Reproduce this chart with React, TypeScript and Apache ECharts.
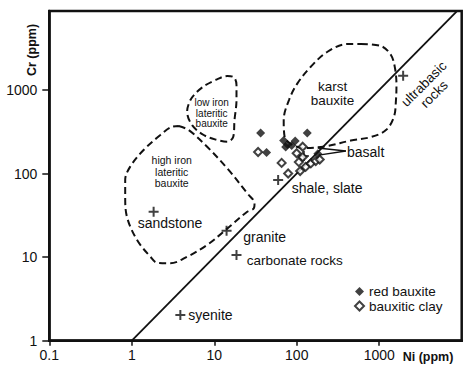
import React, { useEffect, useRef } from "react";
import * as echarts from "echarts";

const xTicks = [0.1, 1, 10, 100, 1000];
const yTicks = [1, 10, 100, 1000];

const redBauxite = [
  [36.5, 305], [134, 305], [43.1, 178], [69.4, 248], [77.6, 222],
  [95.8, 245], [73.4, 207], [86.8, 216], [180, 173],
];
const bauxiticClay = [
  [34.0, 181], [118, 209], [99.8, 175], [118, 157], [65.6, 134], [106, 137],
  [78.7, 100], [110, 107], [128, 120], [148, 132], [170, 141], [190, 147],
];
// sandstone, granite, carbonate rocks, syenite, ultrabasic rocks, shale/slate, (unlabelled)
const rocks = [
  [1.84, 35], [14.1, 20.7], [18.6, 10.6], [3.88, 2.03], [1950, 1480], [59.5, 83.6], [122, 162],
];
const equalLine = [[1, 1], [10000, 10000]];

const highIron = [
  [3.7, 370], [4.9, 331], [8.2, 209], [14.4, 115], [25.1, 58], [30.8, 44], [30.2, 38.4],
  [25.1, 34.9], [14.9, 22.6], [8.2, 14.0], [4.69, 10.1], [2.93, 8.43], [2.02, 8.57],
  [1.68, 10.1], [1.16, 16.0], [0.873, 30.4], [0.832, 52.8], [0.832, 83.6], [0.957, 121],
  [1.39, 191], [2.22, 289], [3.08, 363], [3.7, 370],
];
const lowIron = [
  [7.82, 1145], [10.8, 1340], [14.4, 1467], [17.3, 1415], [18.6, 1145], [18.6, 757],
  [17.6, 437], [17.0, 275], [14.4, 240], [10.8, 252], [7.45, 289], [5.39, 380],
  [4.69, 549], [5.14, 757], [6.19, 951], [7.82, 1145],
];
const karst = [
  [600, 3540], [1049, 3350], [1387, 2615], [1552, 1828], [1618, 1145], [1596, 757],
  [1510, 478], [1207, 331], [793, 273], [453, 248], [231, 213], [128, 202], [89.3, 219],
  [71.4, 273], [69.5, 437], [80.5, 757], [102, 1199], [148, 1895], [236, 2864],
  [413, 3540], [600, 3540],
];
const basaltPointer1 = [[394, 186], [180, 202]];
const basaltPointer2 = [[394, 186], [185, 166]];

const FONT = "'Liberation Sans', Arial, Helvetica, sans-serif";
const plusPath = "path://M4,0H6V4H10V6H6V10H4V6H0V4H4Z";

function txt(text: string, x: number, y: number, size: number, opts: any = {}) {
  return {
    type: "text",
    x,
    y,
    rotation: opts.rotation || 0,
    silent: true,
    style: {
      text,
      fill: "#111",
      fontSize: size,
      fontFamily: FONT,
      fontWeight: opts.bold ? "bold" : "normal",
      lineHeight: opts.lineHeight || size,
      textAlign: opts.align || "left",
      textVerticalAlign: "middle",
    },
  };
}

export default function App() {
  const ref = useRef<HTMLDivElement>(null);
  useEffect(() => {
    if (!ref.current) return;
    const chart = echarts.init(ref.current, null, { renderer: "svg" });
    const dashed = (data: number[][]) => ({
      type: "line",
      data,
      showSymbol: false,
      symbol: "none",
      smooth: 0.35,
      silent: true,
      lineStyle: { color: "#111", width: 2, type: [7, 4] },
      z: 2,
    });
    const solid = (data: number[][], w: number) => ({
      type: "line",
      data,
      symbol: "none",
      silent: true,
      lineStyle: { color: "#111", width: w },
      z: 2,
    });
    chart.setOption({
      animation: false,
      backgroundColor: "#fff",
      grid: {
        left: 49.3,
        right: 12.3,
        top: 11,
        bottom: 37.3,
        show: true,
        borderColor: "#111",
        borderWidth: 2.5,
        containLabel: false,
      },
      legend: {
        data: ["red bauxite", "bauxitic clay"],
        orient: "vertical",
        left: 354,
        top: 284.5,
        padding: 0,
        itemWidth: 9,
        itemHeight: 9,
        itemGap: 0.5,
        icon: "diamond",
        textStyle: { fontSize: 13.5, fontFamily: FONT, color: "#111", lineHeight: 14 },
        selectedMode: false,
      },
      xAxis: {
        type: "log",
        logBase: 10,
        min: 0.1,
        max: 10000,
        axisLine: { show: true, lineStyle: { color: "#111", width: 2.5 } },
        axisTick: { show: true, length: 5, customValues: xTicks, lineStyle: { color: "#111", width: 1.5 } },
        axisLabel: {
          customValues: xTicks,
          margin: 7,
          fontSize: 14,
          fontFamily: FONT,
          color: "#111",
          formatter: (v: number) => String(v),
        },
        splitLine: { show: false },
      },
      yAxis: {
        type: "log",
        logBase: 10,
        min: 1,
        max: 8800,
        axisLine: { show: true, lineStyle: { color: "#111", width: 2.5 } },
        axisTick: { show: true, length: 7, customValues: yTicks, lineStyle: { color: "#111", width: 1.5 } },
        axisLabel: {
          customValues: yTicks,
          margin: 12,
          fontSize: 14,
          fontFamily: FONT,
          color: "#111",
          formatter: (v: number) => String(v),
        },
        splitLine: { show: false },
      },
      series: [
        solid(equalLine, 1.8),
        dashed(highIron),
        dashed(lowIron),
        dashed(karst),
        solid(basaltPointer1, 1.5),
        solid(basaltPointer2, 1.5),
        {
          name: "rocks",
          type: "scatter",
          data: rocks,
          symbol: plusPath,
          symbolSize: 10,
          itemStyle: { color: "#111" },
          z: 4,
        },
        {
          name: "bauxitic clay",
          type: "scatter",
          data: bauxiticClay,
          symbol: "diamond",
          symbolSize: 8,
          itemStyle: { color: "#fff", borderColor: "#111", borderWidth: 2 },
          z: 5,
        },
        {
          name: "red bauxite",
          type: "scatter",
          data: redBauxite,
          symbol: "diamond",
          symbolSize: 9,
          itemStyle: { color: "#111" },
          z: 6,
        },
      ],
      graphic: [
        txt("Cr (ppm)", 31.7, 50, 12.5, { bold: true, rotation: Math.PI / 2, align: "center" }),
        txt("Ni (ppm)", 428, 356.5, 12.5, { bold: true, align: "center" }),
        txt("low iron\nlateritic\nbauxite", 211.7, 113.3, 10, { align: "center", lineHeight: 10.7 }),
        txt("high iron\nlateritic\nbauxite", 171.7, 171.5, 10.5, { align: "center", lineHeight: 11.3 }),
        txt("karst\nbauxite", 332.5, 93.7, 13.5, { align: "center", lineHeight: 14.5 }),
        txt("ultrabasic\nrocks", 429, 89, 13.5, { align: "center", lineHeight: 14.5, rotation: Math.PI / 4 }),
        txt("sandstone", 170, 223.3, 14, { align: "center" }),
        txt("granite", 243.3, 237.3, 14),
        txt("carbonate rocks", 246.7, 260, 13.5),
        txt("syenite", 188.3, 315, 14),
        txt("shale, slate", 291.7, 188.3, 14),
        txt("basalt", 347, 152, 14),
      ],
    });
    return () => chart.dispose();
  }, []);
  return (
    <div
      ref={ref}
      style={{ position: "fixed", left: 0, top: 0, width: 474, height: 378, background: "#fff" }}
    />
  );
}
